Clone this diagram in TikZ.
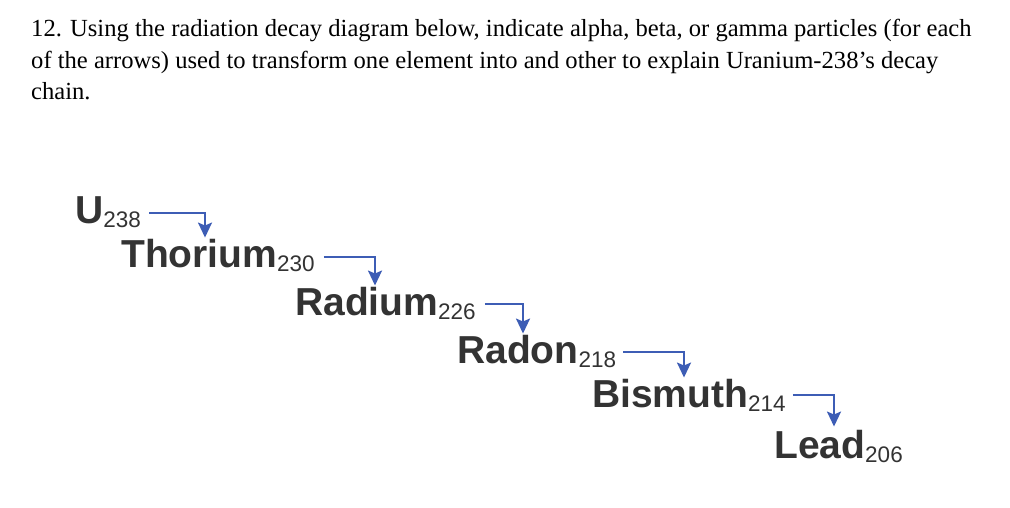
\documentclass[tikz,border=0pt]{standalone}
\usepackage{fontspec}
\setmainfont{Liberation Serif}
\newfontfamily\elemfont{Liberation Sans}
\usetikzlibrary{arrows.meta}
\definecolor{elemgray}{HTML}{333333}
\definecolor{arrowblue}{HTML}{3D5DB5}
\newcommand{\elem}[2]{\elemfont\bfseries\fontsize{39}{40}\selectfont #1\raisebox{-4pt}{\mdseries\fontsize{22.5}{22}\selectfont #2}}
\begin{document}
\begin{tikzpicture}[x=1pt,y=-1pt,
  qline/.style={anchor=base west,inner sep=0pt,font=\fontsize{24.6}{26}\selectfont},
  element/.style={anchor=base west,inner sep=0pt,text=elemgray},
  decay/.style={draw=arrowblue,line width=2.2pt,-{Stealth[length=15pt,width=14pt,inset=3pt]}}]
\useasboundingbox (0,0) rectangle (1010,508);
\fill[white] (0,0) rectangle (1010,508);
\node[qline] (q1) at (31,37) {12. Using the radiation decay diagram below, indicate alpha, beta, or gamma particles (for each};
\node[qline] (q2) at (31,68.5) {of the arrows) used to transform one element into and other to explain Uranium-238’s decay};
\node[qline] (q3) at (31,100) {chain.};
\node[element] (u)  at (75,223)  {\elem{U}{238}};
\node[element] (th) at (121,267) {\elem{Thorium}{230}};
\node[element] (ra) at (295,315) {\elem{Radium}{226}};
\node[element] (rn) at (457,363) {\elem{Radon}{218}};
\node[element] (bi) at (592,407) {\elem{Bismuth}{214}};
\node[element] (pb) at (774,458) {\elem{Lead}{206}};
\draw[decay] ([shift={(8,-10)}]u.base east)  -| ([shift={(84,-1)}]th.north west);
\draw[decay] ([shift={(9,-10)}]th.base east) -| ([shift={(80,-1)}]ra.north west);
\draw[decay] ([shift={(9,-11)}]ra.base east) -| ([shift={(66,-1)}]rn.north west);
\draw[decay] ([shift={(7,-11)}]rn.base east) -| ([shift={(92,-1)}]bi.north west);
\draw[decay] ([shift={(7,-12)}]bi.base east) -| ([shift={(60,-3)}]pb.north west);
\end{tikzpicture}
\end{document}
